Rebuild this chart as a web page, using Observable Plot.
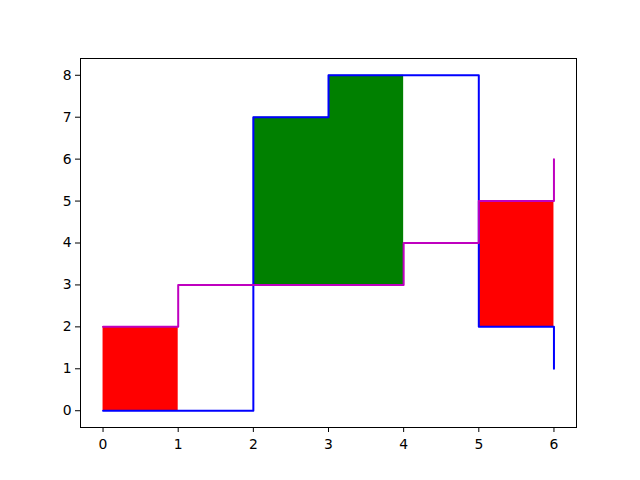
<!DOCTYPE html>
<html>
<head>
<meta charset="utf-8">
<script src="https://cdn.jsdelivr.net/npm/d3@7"></script>
<script src="https://cdn.jsdelivr.net/npm/@observablehq/plot@0.6"></script>
<style>
body { margin: 0; background: #fff; }
svg { display: block; }
</style>
</head>
<body>
<div id="chart"></div>
<script>
const xs = [0, 1, 2, 3, 4, 5, 6];
const y1 = [0, 0, 7, 8, 8, 2, 1];
const y2 = [2, 3, 3, 3, 4, 5, 6];
const xTicks = [0, 1, 2, 3, 4, 5, 6];
const yTicks = [0, 1, 2, 3, 4, 5, 6, 7, 8];

// fill_between(step='post') regions, mimicking matplotlib's where-logic
function regions(cond) {
  const out = [];
  let i = 0;
  while (i < xs.length) {
    if (!cond(i)) { i++; continue; }
    let j = i;
    while (j + 1 < xs.length && cond(j + 1)) j++;
    for (let k = i; k < j; k++) {
      out.push({x1: xs[k], x2: xs[k + 1], lo: Math.min(y1[k], y2[k]), hi: Math.max(y1[k], y2[k])});
    }
    i = j + 1;
  }
  return out;
}
const greens = regions(i => y1[i] > y2[i]);
const reds = regions(i => y1[i] < y2[i]);

const blue = xs.map((x, i) => ({x, y: y1[i]}));
const mag = xs.map((x, i) => ({x, y: y2[i]}));

const chart = Plot.plot({
  width: 640,
  height: 480,
  marginLeft: 80,
  marginRight: 64,
  marginTop: 58,
  marginBottom: 53,
  style: {fontFamily: "DejaVu Sans", fontSize: "10px", background: "#fff", color: "#000"},
  x: {domain: [-0.3, 6.3], ticks: xTicks, tickSize: 5, tickPadding: 7, label: null, tickFormat: d => String(d)},
  y: {domain: [-0.4, 8.4], ticks: yTicks, tickSize: 5, tickPadding: 4, label: null, tickFormat: d => String(d)},
  marks: [
    Plot.rect(greens, {x1: "x1", x2: "x2", y1: "lo", y2: "hi", fill: "#008000"}),
    Plot.rect(reds, {x1: "x1", x2: "x2", y1: "lo", y2: "hi", fill: "#ff0000"}),
    Plot.line(blue, {x: "x", y: "y", curve: "step-after", stroke: "#0000ff", strokeWidth: 2}),
    Plot.line(mag, {x: "x", y: "y", curve: "step-after", stroke: "#bf00bf", strokeWidth: 2}),
    Plot.frame({stroke: "#000", strokeWidth: 1})
  ]
});
chart.querySelectorAll("g[aria-label='x-axis tick label'] text, g[aria-label='y-axis tick label'] text").forEach(t => t.style.fontSize = "13.9px");
document.getElementById("chart").appendChild(chart);
</script>
</body>
</html>
